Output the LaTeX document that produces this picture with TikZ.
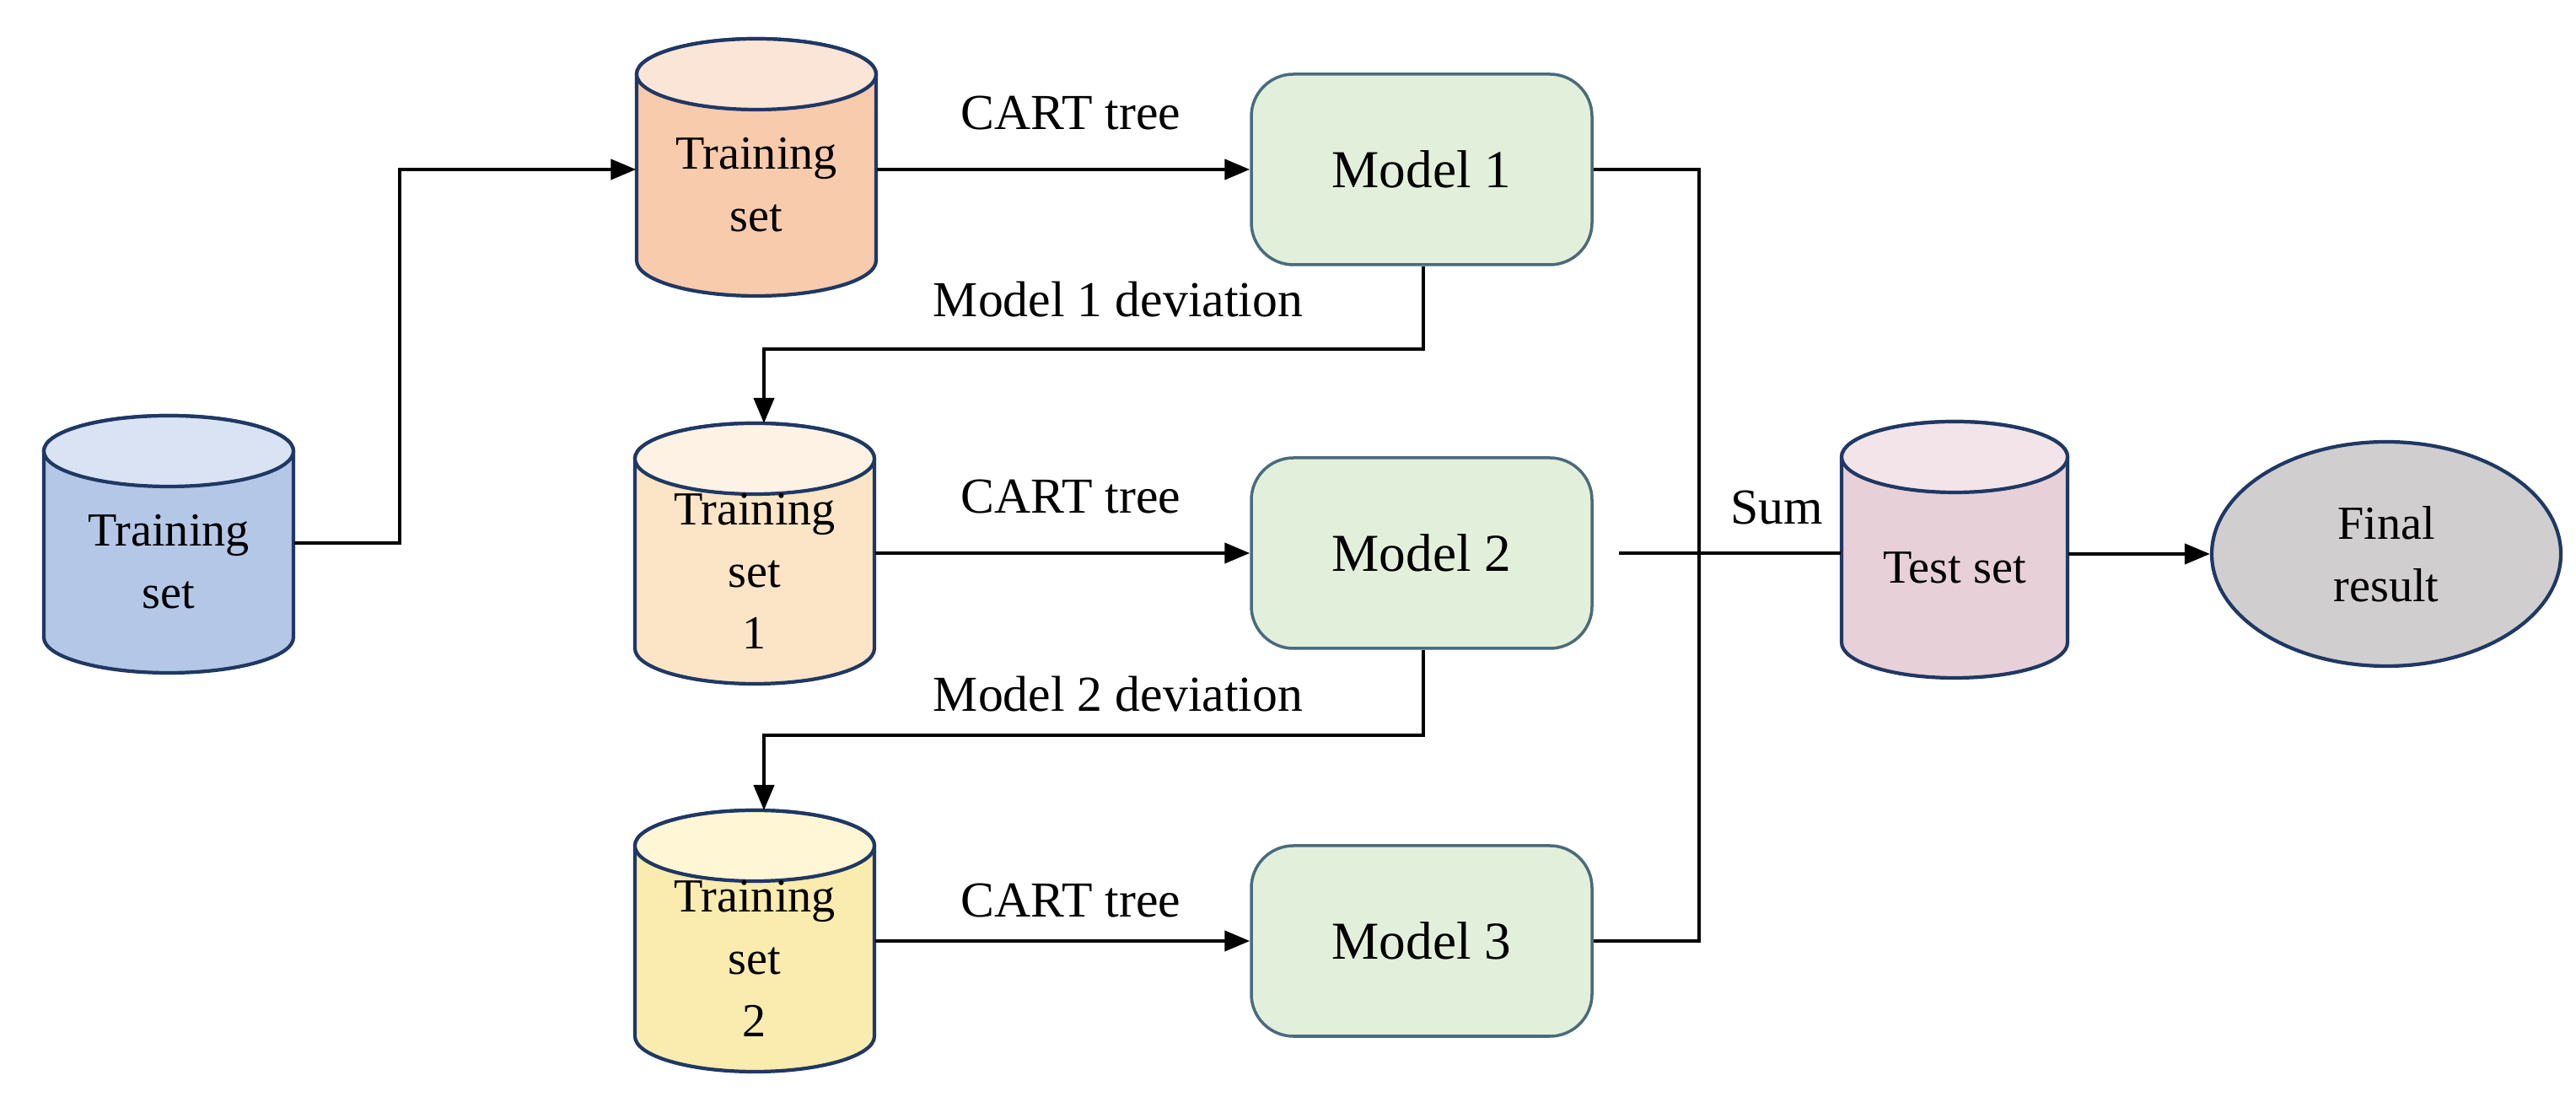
\documentclass[tikz,border=0pt]{standalone}
\usepackage{fontspec}
\setmainfont{Liberation Serif}
\usetikzlibrary{arrows.meta,shapes.geometric}
\definecolor{edge}{HTML}{1F3864}
\definecolor{mboxedge}{HTML}{4A6B7C}
\definecolor{mfill}{HTML}{E2EFDA}
\definecolor{bluebody}{HTML}{B4C7E7}
\definecolor{bluetop}{HTML}{DAE3F3}
\definecolor{orbody}{HTML}{F8CBAD}
\definecolor{ortop}{HTML}{FBE5D6}
\definecolor{aabody}{HTML}{FBE5C6}
\definecolor{aatop}{HTML}{FDF2E4}
\definecolor{bbbody}{HTML}{FAEBAE}
\definecolor{bbtop}{HTML}{FFF6D5}
\definecolor{tebody}{HTML}{E8D0D8}
\definecolor{tetop}{HTML}{F3E4EA}
\definecolor{finfill}{HTML}{D0CECE}
\tikzset{
  conn/.style={line width=1.2pt,black},
  arr/.style={conn,-{Triangle[length=3mm,width=2.4mm]}},
  lbl/.style={font=\fontsize{17}{20}\selectfont},
  model/.style={draw=mboxedge,line width=1pt,fill=mfill,rounded corners=5mm,minimum width=4.04cm,minimum height=2.26cm,font=\fontsize{18}{21}\selectfont},
  cyltext/.style={inner sep=0pt,align=center,font=\fontsize{16}{21}\selectfont},
}
% \mycyl{name}{cx}{top}{bottom}{r}{body}{topfill}{text}
\newcommand{\mycyl}[8]{%
  \pgfmathsetmacro{\ry}{0.42}%
  \filldraw[draw=edge,line width=1.2pt,fill=#6] (#2-#5,#3-\ry) -- (#2-#5,#4+\ry) arc[start angle=180,end angle=360,x radius=#5,y radius=\ry] -- (#2+#5,#3-\ry) arc[start angle=0,end angle=180,x radius=#5,y radius=\ry] -- cycle;
  \filldraw[draw=edge,line width=1.2pt,fill=#7] (#2,#3-\ry) ellipse[x radius=#5,y radius=\ry];
  \node[cyltext,minimum width=2*#5 cm] (#1) at (#2,{(#3-\ry+#4)/2}) {#8};
  \coordinate (#1top) at (#2,#3);
}
\begin{document}
\begin{tikzpicture}
\useasboundingbox (0,0) rectangle (30.55,13.2);
\mycyl{blue}{2.0}{8.27}{5.22}{1.48}{bluebody}{bluetop}{Training\\set}
\mycyl{orange}{8.97}{12.74}{9.69}{1.42}{orbody}{ortop}{Training\\set}
\mycyl{tsa}{8.95}{8.18}{5.09}{1.42}{aabody}{aatop}{Training\\set\\1}
\mycyl{tsb}{8.95}{3.59}{0.49}{1.42}{bbbody}{bbtop}{Training\\set\\2}
\mycyl{test}{23.18}{8.20}{5.16}{1.34}{tebody}{tetop}{Test set}

\node[model] (m1) at (16.86,11.19) {Model 1};
\node[model] (m2) at (16.86,6.64) {Model 2};
\node[model] (m3) at (16.86,2.04) {Model 3};
\node[ellipse,draw=edge,line width=1.2pt,fill=finfill,minimum width=4.14cm,minimum height=2.66cm,align=center,font=\fontsize{16}{21}\selectfont] (fin) at (28.30,6.63) {Final\\result};

\coordinate (k1) at (4.74,6.76);
\coordinate (c1) at (9.06,9.06);
\coordinate (c2) at (9.06,4.48);
\coordinate (s1) at (20.15,11.19);
\coordinate (s3) at (20.15,2.04);
\coordinate (m2o) at (19.20,6.64);

\draw[arr] (blue.east |- k1) -- (k1) |- (orange.west |- m1.west);
\draw[arr] (orange.east |- m1.west) -- (m1.west);
\draw[arr] (tsa.east |- m2.west) -- (m2.west);
\draw[arr] (tsb.east |- m3.west) -- (m3.west);
\draw[arr] (m1.south -| 16.88,0) |- (c1) -- (tsatop -| c1);
\draw[arr] (m2.south -| 16.88,0) |- (c2) -- (tsbtop -| c2);
\draw[conn] (m1.east) -- (s1) -- (s3) -- (m3.east);
\draw[conn] (m2o) -- (test.west |- m2o);
\draw[arr] (test.east |- fin.west) -- (fin.west);

\node[lbl] at (12.70,11.86) {CART tree};
\node[lbl] at (12.70,7.31) {CART tree};
\node[lbl] at (12.70,2.52) {CART tree};
\node[lbl] at (13.26,9.65) {Model 1 deviation};
\node[lbl] at (13.26,4.97) {Model 2 deviation};
\node[lbl] at (21.07,7.18) {Sum};
\end{tikzpicture}
\end{document}
